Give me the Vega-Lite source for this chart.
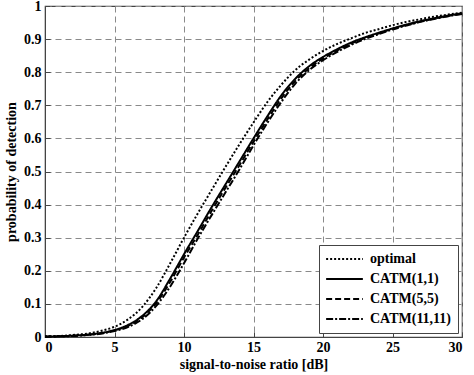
{
  "$schema": "https://vega.github.io/schema/vega-lite/v6.json",
  "width": 417,
  "height": 331,
  "autosize": "none",
  "padding": {"left": 45, "top": 6, "right": 12, "bottom": 38},
  "background": "white",
  "config": {
    "view": {"stroke": "#444", "strokeWidth": 1.2},
    "font": "Liberation Serif",
    "axis": {
      "labelFont": "Liberation Serif",
      "labelFontWeight": "bold",
      "labelFontSize": 14,
      "labelColor": "black",
      "titleFont": "Liberation Serif",
      "titleFontWeight": "bold",
      "titleFontSize": 14,
      "titleColor": "black",
      "domainColor": "#444",
      "tickColor": "#444",
      "tickSize": -5,
      "labelPadding": 9,
      "gridColor": "#8a8a8a",
      "gridDash": [6, 4],
      "gridWidth": 1,
      "gridOpacity": 1
    }
  },
  "datasets": {
    "curves": [
      {"snr": 0, "pd": 0.002, "method": "optimal"},
      {"snr": 1, "pd": 0.003, "method": "optimal"},
      {"snr": 2, "pd": 0.006, "method": "optimal"},
      {"snr": 3, "pd": 0.010, "method": "optimal"},
      {"snr": 4, "pd": 0.018, "method": "optimal"},
      {"snr": 5, "pd": 0.031, "method": "optimal"},
      {"snr": 6, "pd": 0.054, "method": "optimal"},
      {"snr": 7, "pd": 0.091, "method": "optimal"},
      {"snr": 8, "pd": 0.148, "method": "optimal"},
      {"snr": 9, "pd": 0.222, "method": "optimal"},
      {"snr": 10, "pd": 0.300, "method": "optimal"},
      {"snr": 11, "pd": 0.374, "method": "optimal"},
      {"snr": 12, "pd": 0.445, "method": "optimal"},
      {"snr": 13, "pd": 0.515, "method": "optimal"},
      {"snr": 14, "pd": 0.583, "method": "optimal"},
      {"snr": 15, "pd": 0.648, "method": "optimal"},
      {"snr": 16, "pd": 0.710, "method": "optimal"},
      {"snr": 17, "pd": 0.762, "method": "optimal"},
      {"snr": 18, "pd": 0.806, "method": "optimal"},
      {"snr": 19, "pd": 0.838, "method": "optimal"},
      {"snr": 20, "pd": 0.864, "method": "optimal"},
      {"snr": 21, "pd": 0.885, "method": "optimal"},
      {"snr": 22, "pd": 0.902, "method": "optimal"},
      {"snr": 23, "pd": 0.918, "method": "optimal"},
      {"snr": 24, "pd": 0.930, "method": "optimal"},
      {"snr": 25, "pd": 0.942, "method": "optimal"},
      {"snr": 26, "pd": 0.952, "method": "optimal"},
      {"snr": 27, "pd": 0.960, "method": "optimal"},
      {"snr": 28, "pd": 0.968, "method": "optimal"},
      {"snr": 29, "pd": 0.974, "method": "optimal"},
      {"snr": 30, "pd": 0.980, "method": "optimal"},
      {"snr": 0, "pd": 0.001, "method": "CATM(1,1)"},
      {"snr": 1, "pd": 0.002, "method": "CATM(1,1)"},
      {"snr": 2, "pd": 0.004, "method": "CATM(1,1)"},
      {"snr": 3, "pd": 0.007, "method": "CATM(1,1)"},
      {"snr": 4, "pd": 0.012, "method": "CATM(1,1)"},
      {"snr": 5, "pd": 0.021, "method": "CATM(1,1)"},
      {"snr": 6, "pd": 0.037, "method": "CATM(1,1)"},
      {"snr": 7, "pd": 0.064, "method": "CATM(1,1)"},
      {"snr": 8, "pd": 0.108, "method": "CATM(1,1)"},
      {"snr": 9, "pd": 0.176, "method": "CATM(1,1)"},
      {"snr": 10, "pd": 0.250, "method": "CATM(1,1)"},
      {"snr": 11, "pd": 0.321, "method": "CATM(1,1)"},
      {"snr": 12, "pd": 0.393, "method": "CATM(1,1)"},
      {"snr": 13, "pd": 0.462, "method": "CATM(1,1)"},
      {"snr": 14, "pd": 0.531, "method": "CATM(1,1)"},
      {"snr": 15, "pd": 0.600, "method": "CATM(1,1)"},
      {"snr": 16, "pd": 0.667, "method": "CATM(1,1)"},
      {"snr": 17, "pd": 0.730, "method": "CATM(1,1)"},
      {"snr": 18, "pd": 0.780, "method": "CATM(1,1)"},
      {"snr": 19, "pd": 0.818, "method": "CATM(1,1)"},
      {"snr": 20, "pd": 0.846, "method": "CATM(1,1)"},
      {"snr": 21, "pd": 0.869, "method": "CATM(1,1)"},
      {"snr": 22, "pd": 0.889, "method": "CATM(1,1)"},
      {"snr": 23, "pd": 0.905, "method": "CATM(1,1)"},
      {"snr": 24, "pd": 0.919, "method": "CATM(1,1)"},
      {"snr": 25, "pd": 0.932, "method": "CATM(1,1)"},
      {"snr": 26, "pd": 0.944, "method": "CATM(1,1)"},
      {"snr": 27, "pd": 0.954, "method": "CATM(1,1)"},
      {"snr": 28, "pd": 0.963, "method": "CATM(1,1)"},
      {"snr": 29, "pd": 0.971, "method": "CATM(1,1)"},
      {"snr": 30, "pd": 0.978, "method": "CATM(1,1)"},
      {"snr": 0, "pd": 0.001, "method": "CATM(5,5)"},
      {"snr": 1, "pd": 0.002, "method": "CATM(5,5)"},
      {"snr": 2, "pd": 0.004, "method": "CATM(5,5)"},
      {"snr": 3, "pd": 0.006, "method": "CATM(5,5)"},
      {"snr": 4, "pd": 0.011, "method": "CATM(5,5)"},
      {"snr": 5, "pd": 0.020, "method": "CATM(5,5)"},
      {"snr": 6, "pd": 0.034, "method": "CATM(5,5)"},
      {"snr": 7, "pd": 0.060, "method": "CATM(5,5)"},
      {"snr": 8, "pd": 0.102, "method": "CATM(5,5)"},
      {"snr": 9, "pd": 0.166, "method": "CATM(5,5)"},
      {"snr": 10, "pd": 0.240, "method": "CATM(5,5)"},
      {"snr": 11, "pd": 0.310, "method": "CATM(5,5)"},
      {"snr": 12, "pd": 0.382, "method": "CATM(5,5)"},
      {"snr": 13, "pd": 0.452, "method": "CATM(5,5)"},
      {"snr": 14, "pd": 0.520, "method": "CATM(5,5)"},
      {"snr": 15, "pd": 0.590, "method": "CATM(5,5)"},
      {"snr": 16, "pd": 0.657, "method": "CATM(5,5)"},
      {"snr": 17, "pd": 0.721, "method": "CATM(5,5)"},
      {"snr": 18, "pd": 0.773, "method": "CATM(5,5)"},
      {"snr": 19, "pd": 0.812, "method": "CATM(5,5)"},
      {"snr": 20, "pd": 0.841, "method": "CATM(5,5)"},
      {"snr": 21, "pd": 0.865, "method": "CATM(5,5)"},
      {"snr": 22, "pd": 0.886, "method": "CATM(5,5)"},
      {"snr": 23, "pd": 0.903, "method": "CATM(5,5)"},
      {"snr": 24, "pd": 0.917, "method": "CATM(5,5)"},
      {"snr": 25, "pd": 0.931, "method": "CATM(5,5)"},
      {"snr": 26, "pd": 0.943, "method": "CATM(5,5)"},
      {"snr": 27, "pd": 0.953, "method": "CATM(5,5)"},
      {"snr": 28, "pd": 0.962, "method": "CATM(5,5)"},
      {"snr": 29, "pd": 0.970, "method": "CATM(5,5)"},
      {"snr": 30, "pd": 0.977, "method": "CATM(5,5)"},
      {"snr": 0, "pd": 0.001, "method": "CATM(11,11)"},
      {"snr": 1, "pd": 0.002, "method": "CATM(11,11)"},
      {"snr": 2, "pd": 0.003, "method": "CATM(11,11)"},
      {"snr": 3, "pd": 0.006, "method": "CATM(11,11)"},
      {"snr": 4, "pd": 0.010, "method": "CATM(11,11)"},
      {"snr": 5, "pd": 0.018, "method": "CATM(11,11)"},
      {"snr": 6, "pd": 0.031, "method": "CATM(11,11)"},
      {"snr": 7, "pd": 0.054, "method": "CATM(11,11)"},
      {"snr": 8, "pd": 0.094, "method": "CATM(11,11)"},
      {"snr": 9, "pd": 0.152, "method": "CATM(11,11)"},
      {"snr": 10, "pd": 0.223, "method": "CATM(11,11)"},
      {"snr": 11, "pd": 0.298, "method": "CATM(11,11)"},
      {"snr": 12, "pd": 0.369, "method": "CATM(11,11)"},
      {"snr": 13, "pd": 0.438, "method": "CATM(11,11)"},
      {"snr": 14, "pd": 0.507, "method": "CATM(11,11)"},
      {"snr": 15, "pd": 0.579, "method": "CATM(11,11)"},
      {"snr": 16, "pd": 0.647, "method": "CATM(11,11)"},
      {"snr": 17, "pd": 0.710, "method": "CATM(11,11)"},
      {"snr": 18, "pd": 0.765, "method": "CATM(11,11)"},
      {"snr": 19, "pd": 0.806, "method": "CATM(11,11)"},
      {"snr": 20, "pd": 0.836, "method": "CATM(11,11)"},
      {"snr": 21, "pd": 0.861, "method": "CATM(11,11)"},
      {"snr": 22, "pd": 0.882, "method": "CATM(11,11)"},
      {"snr": 23, "pd": 0.900, "method": "CATM(11,11)"},
      {"snr": 24, "pd": 0.915, "method": "CATM(11,11)"},
      {"snr": 25, "pd": 0.929, "method": "CATM(11,11)"},
      {"snr": 26, "pd": 0.941, "method": "CATM(11,11)"},
      {"snr": 27, "pd": 0.952, "method": "CATM(11,11)"},
      {"snr": 28, "pd": 0.961, "method": "CATM(11,11)"},
      {"snr": 29, "pd": 0.969, "method": "CATM(11,11)"},
      {"snr": 30, "pd": 0.976, "method": "CATM(11,11)"}
    ]
  },
  "data": {"name": "curves"},
  "mark": {"type": "line", "interpolate": "monotone", "color": "black", "strokeWidth": 2},
  "encoding": {
    "x": {
      "field": "snr", "type": "quantitative",
      "scale": {"domain": [0, 30], "nice": false},
      "axis": {"values": [0, 5, 10, 15, 20, 25, 30], "title": "signal-to-noise ratio [dB]", "titlePadding": 3, "labelPadding": 8}
    },
    "y": {
      "field": "pd", "type": "quantitative",
      "scale": {"domain": [0, 1], "nice": false},
      "axis": {"values": [0, 0.1, 0.2, 0.3, 0.4, 0.5, 0.6, 0.7, 0.8, 0.9, 1], "format": "~g", "title": "probability of detection", "titlePadding": 5}
    },
    "strokeDash": {
      "field": "method", "type": "nominal",
      "scale": {
        "domain": ["optimal", "CATM(1,1)", "CATM(5,5)", "CATM(11,11)"],
        "range": [[2, 2], [1, 0], [6, 3], [7, 2, 2, 2]]
      },
      "legend": {
        "title": null,
        "orient": "bottom-right",
        "offset": 4,
        "fillColor": "white",
        "strokeColor": "#444",
        "padding": 6,
        "symbolType": "stroke",
        "symbolSize": 1350,
        "symbolStrokeWidth": 2,
        "symbolStrokeColor": "black",
        "clipHeight": 16,
        "labelFont": "Liberation Serif",
        "labelFontWeight": "bold",
        "labelFontSize": 14,
        "labelColor": "black",
        "labelOffset": 6,
        "rowPadding": 4
      }
    }
  }
}
